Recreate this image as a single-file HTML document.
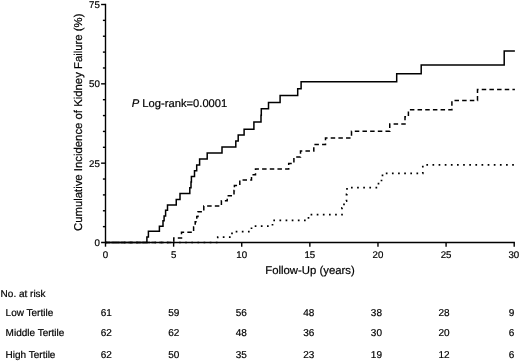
<!DOCTYPE html>
<html lang="en">
<head>
<meta charset="utf-8">
<title>Cumulative Incidence of Kidney Failure</title>
<style>
html,body{margin:0;padding:0;background:#fff;}
body{width:520px;height:361px;overflow:hidden;}
svg{display:block;}
text{font-family:"Liberation Sans",Arial,Helvetica,sans-serif;fill:#000;stroke:#000;stroke-width:0.2px;text-rendering:geometricPrecision;}
.t{font-size:9.7px;}
.r{font-size:10px;}
.a{font-size:11.35px;}
.p{font-size:11.2px;}
</style>
</head>
<body>
<svg width="520" height="361" viewBox="0 0 520 361">
<rect width="520" height="361" fill="#fff"/>

<g stroke="#000" stroke-width="1.4" fill="none" stroke-linecap="butt">
<path d="M105.5,3.8 V246.7"/>
<path d="M101.1,242.5 H514.9"/>
<path d="M102.9,226.63 H105.5"/>
<path d="M102.9,210.77 H105.5"/>
<path d="M102.9,194.90 H105.5"/>
<path d="M102.9,179.03 H105.5"/>
<path d="M101.1,163.17 H105.5"/>
<path d="M102.9,147.30 H105.5"/>
<path d="M102.9,131.43 H105.5"/>
<path d="M102.9,115.57 H105.5"/>
<path d="M102.9,99.70 H105.5"/>
<path d="M101.1,83.83 H105.5"/>
<path d="M102.9,67.97 H105.5"/>
<path d="M102.9,52.10 H105.5"/>
<path d="M102.9,36.23 H105.5"/>
<path d="M102.9,20.37 H105.5"/>
<path d="M101.1,4.50 H105.5"/>
<path d="M173.62,242.5 V246.7"/>
<path d="M241.73,242.5 V246.7"/>
<path d="M309.85,242.5 V246.7"/>
<path d="M377.97,242.5 V246.7"/>
<path d="M446.08,242.5 V246.7"/>
<path d="M514.20,242.5 V246.7"/>
</g>
<clipPath id="c"><rect x="100" y="0" width="420" height="241.9"/><rect x="100" y="242.6" width="420" height="3"/></clipPath>
<path d="M105.5,242.5 H217.75 V237.2 H232 V231.7 H251.5 V226.2 H272.5 V220.3 H308.5 V214.65 H342 V207.9 H344 V201.1 H346.5 V194.4 H347 V187.6 H378.5 V180.5 H382.5 V173.4 H422.8 V164.9 H514.9" fill="none" stroke="#000" stroke-width="1.7" stroke-dasharray="1.7 4.43" clip-path="url(#c)"/>
<path d="M105.5,242.5 H173.8 V238.1 H181.5 V232.3 H193.6 V227 H195.2 V221.8 H196.8 V216.6 H198 V211.7 H203.8 V206.1 H221.4 V200.8 H227.2 V195.8 H234 V190.6 H234.4 V185.5 H239.8 V180.1 H251.5 V174.7 H255.5 V169 H288.7 V163.5 H293.9 V157.1 H300.5 V151 H313.8 V144.6 H325.5 V137.9 H351.5 V131.3 H389.75 V124.1 H405 V116.7 H408.4 V109.7 H451.9 V100.6 H477.5 V89.5 H514.9" fill="none" stroke="#000" stroke-width="1.5" stroke-dasharray="4.5 3.17" clip-path="url(#c)"/>
<path d="M105.5,242.5 H146.9 V237 H148.4 V231.35 H159.4 V226.3 H163 V220.7 H164.1 V215.9 H165.6 V210.2 H167.5 V205 H176.25 V199.4 H180 V193.5 H189.8 V187.7 H191 V182 H191.4 V176.6 H194.5 V170.8 H196.7 V165 H199.6 V158.9 H207.2 V153.1 H222 V146.9 H235.8 V141.1 H238.2 V134.9 H244.1 V129.2 H253.9 V121.9 H261 V115.3 H261.3 V108.7 H268.5 V102.6 H280.1 V95.5 H297.7 V88.8 H301.1 V81.8 H396.7 V73.7 H421.2 V65 H504.2 V51 H514.9" fill="none" stroke="#000" stroke-width="1.5" stroke-linejoin="miter"/>
<text class="t" x="99.8" y="245.95" text-anchor="end">0</text>
<text class="t" x="99.8" y="166.62" text-anchor="end">25</text>
<text class="t" x="99.8" y="87.28" text-anchor="end">50</text>
<text class="t" x="99.8" y="7.95" text-anchor="end">75</text>
<text class="t" x="105.50" y="257.6" text-anchor="middle">0</text>
<text class="t" x="173.62" y="257.6" text-anchor="middle">5</text>
<text class="t" x="241.73" y="257.6" text-anchor="middle">10</text>
<text class="t" x="309.85" y="257.6" text-anchor="middle">15</text>
<text class="t" x="377.97" y="257.6" text-anchor="middle">20</text>
<text class="t" x="446.08" y="257.6" text-anchor="middle">25</text>
<text class="t" x="513.85" y="257.6" text-anchor="middle">30</text>
<text class="a" x="310" y="273.7" text-anchor="middle">Follow-Up (years)</text>
<text class="a" transform="translate(82.2,122.3) rotate(-90)" text-anchor="middle">Cumulative Incidence of Kidney Failure (%)</text>
<text class="p" x="131.8" y="106.9"><tspan font-style="italic">P</tspan> Log-rank=0.0001</text>
<text class="r" x="0.6" y="297.3">No. at risk</text>
<text class="r" x="5.6" y="316.3">Low Tertile</text>
<text class="r" x="106.20" y="316.3" text-anchor="middle">61</text>
<text class="r" x="173.75" y="316.3" text-anchor="middle">59</text>
<text class="r" x="241.30" y="316.3" text-anchor="middle">56</text>
<text class="r" x="308.85" y="316.3" text-anchor="middle">48</text>
<text class="r" x="376.40" y="316.3" text-anchor="middle">38</text>
<text class="r" x="443.95" y="316.3" text-anchor="middle">28</text>
<text class="r" x="511.50" y="316.3" text-anchor="middle">9</text>
<text class="r" x="5.6" y="335.8">Middle Tertile</text>
<text class="r" x="106.20" y="335.8" text-anchor="middle">62</text>
<text class="r" x="173.75" y="335.8" text-anchor="middle">62</text>
<text class="r" x="241.30" y="335.8" text-anchor="middle">48</text>
<text class="r" x="308.85" y="335.8" text-anchor="middle">36</text>
<text class="r" x="376.40" y="335.8" text-anchor="middle">30</text>
<text class="r" x="443.95" y="335.8" text-anchor="middle">20</text>
<text class="r" x="511.50" y="335.8" text-anchor="middle">6</text>
<text class="r" x="5.6" y="357.8">High Tertile</text>
<text class="r" x="106.20" y="357.8" text-anchor="middle">62</text>
<text class="r" x="173.75" y="357.8" text-anchor="middle">50</text>
<text class="r" x="241.30" y="357.8" text-anchor="middle">35</text>
<text class="r" x="308.85" y="357.8" text-anchor="middle">23</text>
<text class="r" x="376.40" y="357.8" text-anchor="middle">19</text>
<text class="r" x="443.95" y="357.8" text-anchor="middle">12</text>
<text class="r" x="511.50" y="357.8" text-anchor="middle">6</text>
</svg>
</body>
</html>
